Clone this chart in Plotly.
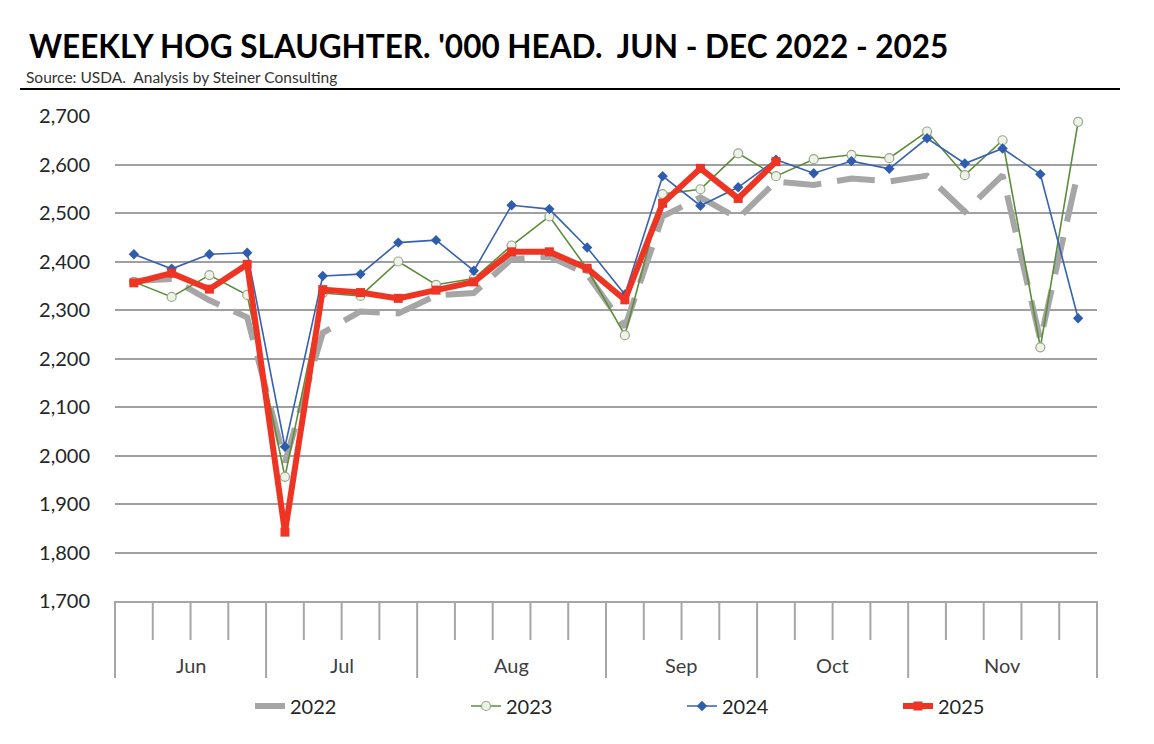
import plotly.graph_objects as go

months = ["Jun", "Jul", "Aug", "Sep", "Oct", "Nov"]
weeks_per_month = [4, 4, 5, 4, 4, 5]

y2022 = [2360, 2364, 2320, 2285, 1986, 2253, 2297, 2293, 2330, 2335, 2405, 2410, 2374, 2265,
         2493, 2532, 2489, 2565, 2558, 2571, 2565, 2577, 2503, 2578, 2238, 2585]
y2023 = [2358, 2327, 2372, 2331, 1956, 2335, 2329, 2400, 2352, 2365, 2433, 2493, 2385, 2248,
         2539, 2549, 2623, 2576, 2611, 2620, 2613, 2668, 2578, 2650, 2223, 2688]
y2024 = [2415, 2385, 2415, 2418, 2018, 2370, 2374, 2439, 2444, 2381, 2516, 2508, 2429, 2332,
         2576, 2515, 2553, 2610, 2582, 2607, 2591, 2654, 2602, 2633, 2580, 2283]
y2025 = [2356, 2376, 2343, 2394, 1842, 2342, 2336, 2324, 2341, 2358, 2420, 2420, 2386, 2321,
         2520, 2592, 2530, 2606]

N = sum(weeks_per_month)
xs = list(range(N))

W, H = 1154, 744
L, R, T, B = 115, 1097, 116, 601


def px(x):
    return (x - L) / (R - L)


def py(y):
    return (B - y) / (B - T)


FONT = "Lato"

fig = go.Figure()
fig.add_trace(go.Scatter(x=xs, y=y2022, name="2022", mode="lines",
                         line=dict(color="#A6A6A6", width=6, dash="38px,16px")))
fig.add_trace(go.Scatter(x=xs, y=y2023, name="2023", mode="lines+markers",
                         line=dict(color="#5E8C3A", width=1.6),
                         marker=dict(symbol="circle", size=9, color="#EEF3E8",
                                     line=dict(color="#9AA68F", width=1.2))))
fig.add_trace(go.Scatter(x=xs, y=y2024, name="2024", mode="lines+markers",
                         line=dict(color="#3862B0", width=1.6),
                         marker=dict(symbol="diamond", size=8, color="#2F5DAE")))
fig.add_trace(go.Scatter(x=xs[:len(y2025)], y=y2025, name="2025", mode="lines+markers",
                         line=dict(color="#EE3524", width=6),
                         marker=dict(symbol="square", size=9, color="#EE3524")))

shapes = []
bounds = [0]
for n in weeks_per_month:
    bounds.append(bounds[-1] + n)
for k in range(N + 1):
    long_tick = k in bounds
    shapes.append(dict(type="line", xref="paper", yref="paper",
                       x0=k / N, x1=k / N, y0=0, y1=py(678 if long_tick else 640),
                       line=dict(color="#A6A6A6", width=2)))
# rule under subtitle
shapes.append(dict(type="line", xref="paper", yref="paper", x0=px(20), x1=px(1120),
                   y0=py(89), y1=py(89), line=dict(color="#000000", width=2)))

annotations = []
for i, m in enumerate(months):
    c = (bounds[i] + bounds[i + 1]) / 2 / N
    annotations.append(dict(text=m, xref="paper", yref="paper", x=c, y=py(665),
                            showarrow=False, xanchor="center", yanchor="middle",
                            font=dict(family=FONT, size=20, color="#404040")))
annotations.append(dict(text="WEEKLY HOG SLAUGHTER. '000 HEAD.\u00a0 JUN - DEC 2022 - 2025",
                        xref="paper", yref="paper", x=px(27), y=py(46), showarrow=False,
                        xanchor="left", yanchor="middle",
                        font=dict(family=FONT, size=31.5, color="#000000", weight="bold")))
annotations.append(dict(text="Source: USDA.\u00a0 Analysis by Steiner Consulting",
                        xref="paper", yref="paper", x=px(24), y=py(77), showarrow=False,
                        xanchor="left", yanchor="middle",
                        font=dict(family=FONT, size=15.5, color="#333333")))

fig.update_layout(
    width=W, height=H,
    margin=dict(l=L, r=W - R, t=T, b=H - B, pad=0),
    plot_bgcolor="white", paper_bgcolor="white",
    showlegend=True,
    legend=dict(orientation="h", x=px(250), y=py(706), xanchor="left", yanchor="middle",
                font=dict(family=FONT, size=20, color="#262626"),
                entrywidth=171, entrywidthmode="pixels", traceorder="normal"),
    xaxis=dict(range=[-0.5, N - 0.5], showgrid=False, zeroline=False,
               showticklabels=False, ticks="", showline=True, linecolor="#A6A6A6",
               linewidth=2),
    yaxis=dict(range=[1700, 2700], dtick=100, tick0=1700, tickformat=",d",
               showgrid=True, gridcolor="#A0A0A0", gridwidth=2, zeroline=False,
               ticks="", ticklabelstandoff=24,
               tickfont=dict(family=FONT, size=20, color="#262626")),
    shapes=shapes, annotations=annotations,
)

fig.write_html("out.html")
